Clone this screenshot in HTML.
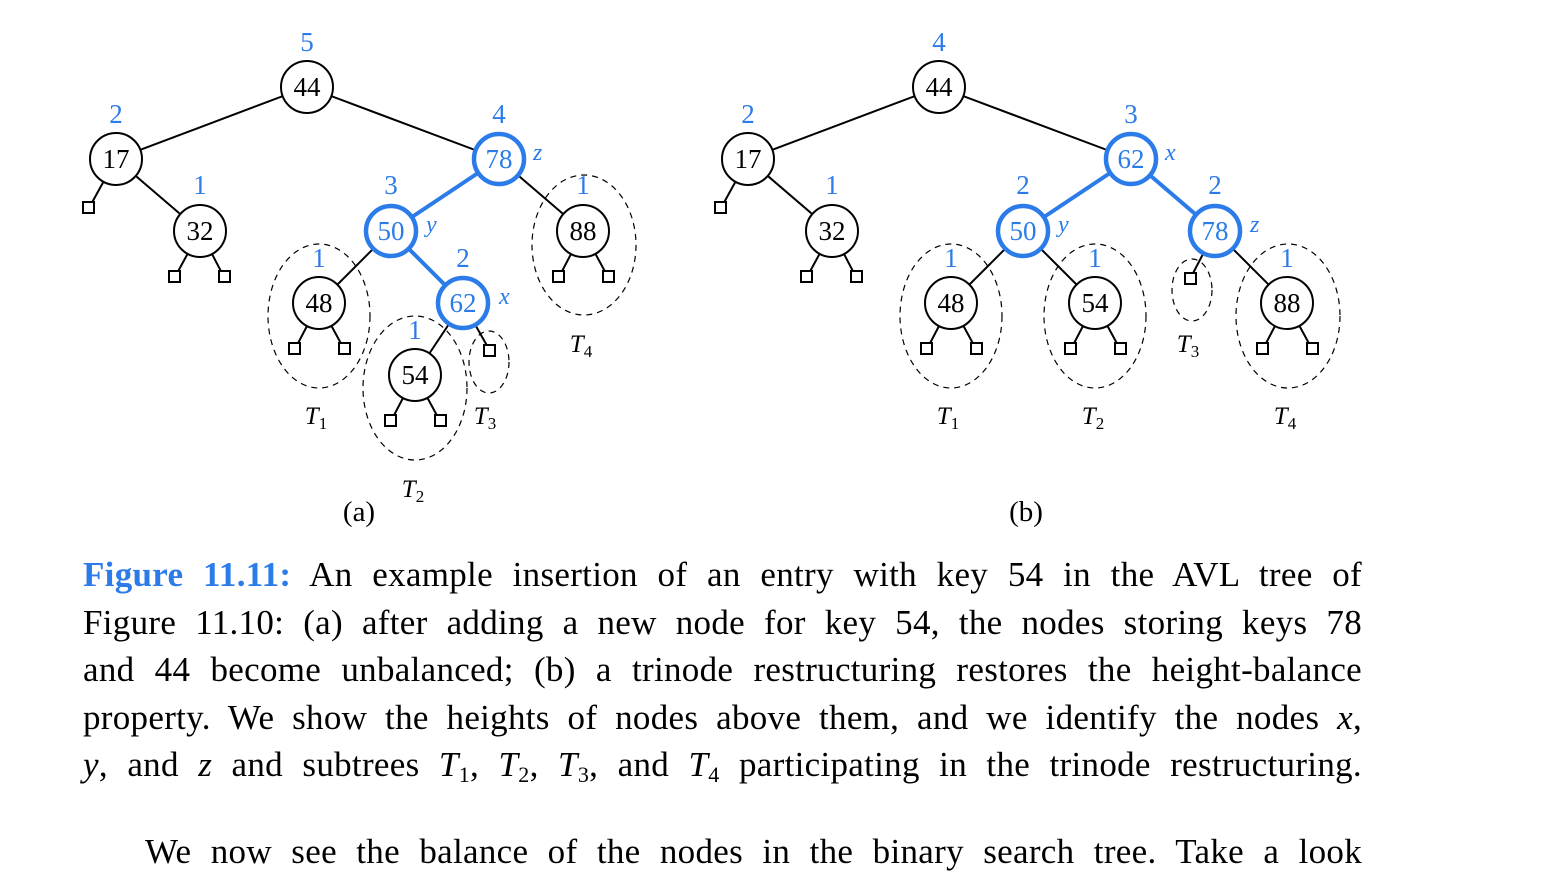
<!DOCTYPE html>
<html><head><meta charset="utf-8"><style>
html,body{margin:0;padding:0;background:#fff;width:1558px;height:840px;overflow:hidden}
svg{position:absolute;left:0;top:0}
.cap{position:absolute;left:83px;width:1279px;font-family:"Liberation Serif",serif;font-size:35px;letter-spacing:0.3px;color:#000;text-align:justify;text-align-last:justify;white-space:nowrap;line-height:1}
.b{color:#2b7be9;font-weight:bold}
i sub{font-style:normal;font-size:22px;vertical-align:baseline;position:relative;top:6px;line-height:0}
</style></head><body>
<svg width="1558" height="840" viewBox="0 0 1558 840" font-family="Liberation Serif, serif">
<g stroke="#000" stroke-width="2" fill="none">
<line x1="307" y1="87" x2="116" y2="159"/><line x1="307" y1="87" x2="499" y2="159"/>
<line x1="116" y1="159" x2="89" y2="208"/><line x1="116" y1="159" x2="200" y2="231"/>
<line x1="200" y1="231" x2="175" y2="277"/><line x1="200" y1="231" x2="224" y2="277"/>
<line x1="499" y1="159" x2="583" y2="231"/>
<line x1="583" y1="231" x2="559" y2="277"/><line x1="583" y1="231" x2="608" y2="277"/>
<line x1="391" y1="231" x2="319" y2="303"/>
<line x1="319" y1="303" x2="295" y2="349"/><line x1="319" y1="303" x2="344" y2="349"/>
<line x1="463" y1="303" x2="415" y2="375"/><line x1="463" y1="303" x2="490" y2="351"/>
<line x1="415" y1="375" x2="391" y2="421"/><line x1="415" y1="375" x2="440" y2="421"/>
<line x1="939" y1="87" x2="748" y2="159"/><line x1="939" y1="87" x2="1131" y2="159"/>
<line x1="748" y1="159" x2="721" y2="208"/><line x1="748" y1="159" x2="832" y2="231"/>
<line x1="832" y1="231" x2="807" y2="277"/><line x1="832" y1="231" x2="856" y2="277"/>
<line x1="1023" y1="231" x2="951" y2="303"/><line x1="1023" y1="231" x2="1095" y2="303"/>
<line x1="1215" y1="231" x2="1190" y2="279"/><line x1="1215" y1="231" x2="1287" y2="303"/>
<line x1="951" y1="303" x2="927" y2="349"/><line x1="951" y1="303" x2="976" y2="349"/>
<line x1="1095" y1="303" x2="1071" y2="349"/><line x1="1095" y1="303" x2="1120" y2="349"/>
<line x1="1287" y1="303" x2="1263" y2="349"/><line x1="1287" y1="303" x2="1312" y2="349"/>
</g>
<g stroke="#2b7be9" stroke-width="4">
<line x1="499" y1="159" x2="391" y2="231"/><line x1="391" y1="231" x2="463" y2="303"/>
<line x1="1131" y1="159" x2="1023" y2="231"/><line x1="1131" y1="159" x2="1215" y2="231"/>
</g>
<g fill="#fff" stroke="#000" stroke-width="2">
<rect x="83" y="202" width="11" height="11"/><rect x="169" y="271" width="11" height="11"/><rect x="219" y="271" width="11" height="11"/>
<rect x="553" y="271" width="11" height="11"/><rect x="603" y="271" width="11" height="11"/>
<rect x="289" y="343" width="11" height="11"/><rect x="339" y="343" width="11" height="11"/>
<rect x="385" y="415" width="11" height="11"/><rect x="435" y="415" width="11" height="11"/><rect x="484" y="345" width="11" height="11"/>
<rect x="715" y="202" width="11" height="11"/><rect x="801" y="271" width="11" height="11"/><rect x="851" y="271" width="11" height="11"/>
<rect x="921" y="343" width="11" height="11"/><rect x="971" y="343" width="11" height="11"/>
<rect x="1065" y="343" width="11" height="11"/><rect x="1115" y="343" width="11" height="11"/>
<rect x="1257" y="343" width="11" height="11"/><rect x="1307" y="343" width="11" height="11"/>
<rect x="1185" y="273" width="11" height="11"/>
</g>
<g fill="none" stroke="#000" stroke-width="1.2" stroke-dasharray="6,5">
<ellipse cx="319" cy="316" rx="51" ry="72"/><ellipse cx="415" cy="388" rx="52" ry="72"/>
<ellipse cx="489" cy="362" rx="20" ry="31"/><ellipse cx="584" cy="245" rx="52" ry="70"/>
<ellipse cx="951" cy="316" rx="51" ry="72"/><ellipse cx="1095" cy="316" rx="51" ry="72"/>
<ellipse cx="1192" cy="290" rx="20" ry="31"/><ellipse cx="1288" cy="316" rx="52" ry="72"/>
</g>
<g fill="#fff" stroke="#000" stroke-width="2">
<circle cx="307" cy="87" r="26"/><circle cx="116" cy="159" r="26"/><circle cx="200" cy="231" r="26"/>
<circle cx="583" cy="231" r="26"/><circle cx="319" cy="303" r="26"/><circle cx="415" cy="375" r="26"/>
<circle cx="939" cy="87" r="26"/><circle cx="748" cy="159" r="26"/><circle cx="832" cy="231" r="26"/>
<circle cx="951" cy="303" r="26"/><circle cx="1095" cy="303" r="26"/><circle cx="1287" cy="303" r="26"/>
</g>
<g fill="#fff" stroke="#2b7be9" stroke-width="4.5">
<circle cx="499" cy="159" r="25"/><circle cx="391" cy="231" r="25"/><circle cx="463" cy="303" r="25"/>
<circle cx="1131" cy="159" r="25"/><circle cx="1023" cy="231" r="25"/><circle cx="1215" cy="231" r="25"/>
</g>
<g font-size="27" text-anchor="middle" fill="#000">
<text x="307" y="96">44</text><text x="116" y="168">17</text><text x="200" y="240">32</text>
<text x="583" y="240">88</text><text x="319" y="312">48</text><text x="415" y="384">54</text>
<text x="939" y="96">44</text><text x="748" y="168">17</text><text x="832" y="240">32</text>
<text x="951" y="312">48</text><text x="1095" y="312">54</text><text x="1287" y="312">88</text>
</g>
<g font-size="27" text-anchor="middle" fill="#2b7be9">
<text x="499" y="168">78</text><text x="391" y="240">50</text><text x="463" y="312">62</text>
<text x="1131" y="168">62</text><text x="1023" y="240">50</text><text x="1215" y="240">78</text>
<text x="307" y="51">5</text><text x="116" y="123">2</text><text x="499" y="123">4</text>
<text x="200" y="194">1</text><text x="391" y="194">3</text><text x="583" y="194">1</text>
<text x="319" y="267">1</text><text x="463" y="267">2</text><text x="415" y="339">1</text>
<text x="939" y="51">4</text><text x="748" y="123">2</text><text x="832" y="194">1</text><text x="1131" y="123">3</text>
<text x="1023" y="194">2</text><text x="1215" y="194">2</text>
<text x="951" y="267">1</text><text x="1095" y="267">1</text><text x="1287" y="267">1</text>
</g>
<g font-size="24" font-style="italic" fill="#2b7be9">
<text x="533" y="160">z</text><text x="426" y="232">y</text><text x="499" y="304">x</text>
<text x="1165" y="160">x</text><text x="1058" y="232">y</text><text x="1250" y="232">z</text>
</g>
<g font-size="25" font-style="italic" fill="#000" text-anchor="middle">
<text x="316" y="424">T<tspan font-size="17" font-style="normal" dy="5">1</tspan></text>
<text x="413" y="497">T<tspan font-size="17" font-style="normal" dy="5">2</tspan></text>
<text x="485" y="424">T<tspan font-size="17" font-style="normal" dy="5">3</tspan></text>
<text x="581" y="352">T<tspan font-size="17" font-style="normal" dy="5">4</tspan></text>
<text x="948" y="424">T<tspan font-size="17" font-style="normal" dy="5">1</tspan></text>
<text x="1093" y="424">T<tspan font-size="17" font-style="normal" dy="5">2</tspan></text>
<text x="1188" y="352">T<tspan font-size="17" font-style="normal" dy="5">3</tspan></text>
<text x="1285" y="424">T<tspan font-size="17" font-style="normal" dy="5">4</tspan></text>
</g>
<g font-size="29" text-anchor="middle" fill="#000">
<text x="359" y="521">(a)</text><text x="1026" y="521">(b)</text>
</g>
</svg>
<div class="cap" style="top:557px"><span class="b">Figure 11.11:</span> An example insertion of an entry with key 54 in the AVL tree of</div>
<div class="cap" style="top:605px">Figure 11.10: (a) after adding a new node for key 54, the nodes storing keys 78</div>
<div class="cap" style="top:652px">and 44 become unbalanced; (b) a trinode restructuring restores the height-balance</div>
<div class="cap" style="top:700px">property. We show the heights of nodes above them, and we identify the nodes <i>x</i>,</div>
<div class="cap" style="top:747px"><i>y</i>, and <i>z</i> and subtrees <i>T<sub>1</sub></i>, <i>T<sub>2</sub></i>, <i>T<sub>3</sub></i>, and <i>T<sub>4</sub></i> participating in the trinode restructuring.</div>
<div class="cap" style="top:834px;left:145px;width:1217px">We now see the balance of the nodes in the binary search tree. Take a look</div>
</body></html>
